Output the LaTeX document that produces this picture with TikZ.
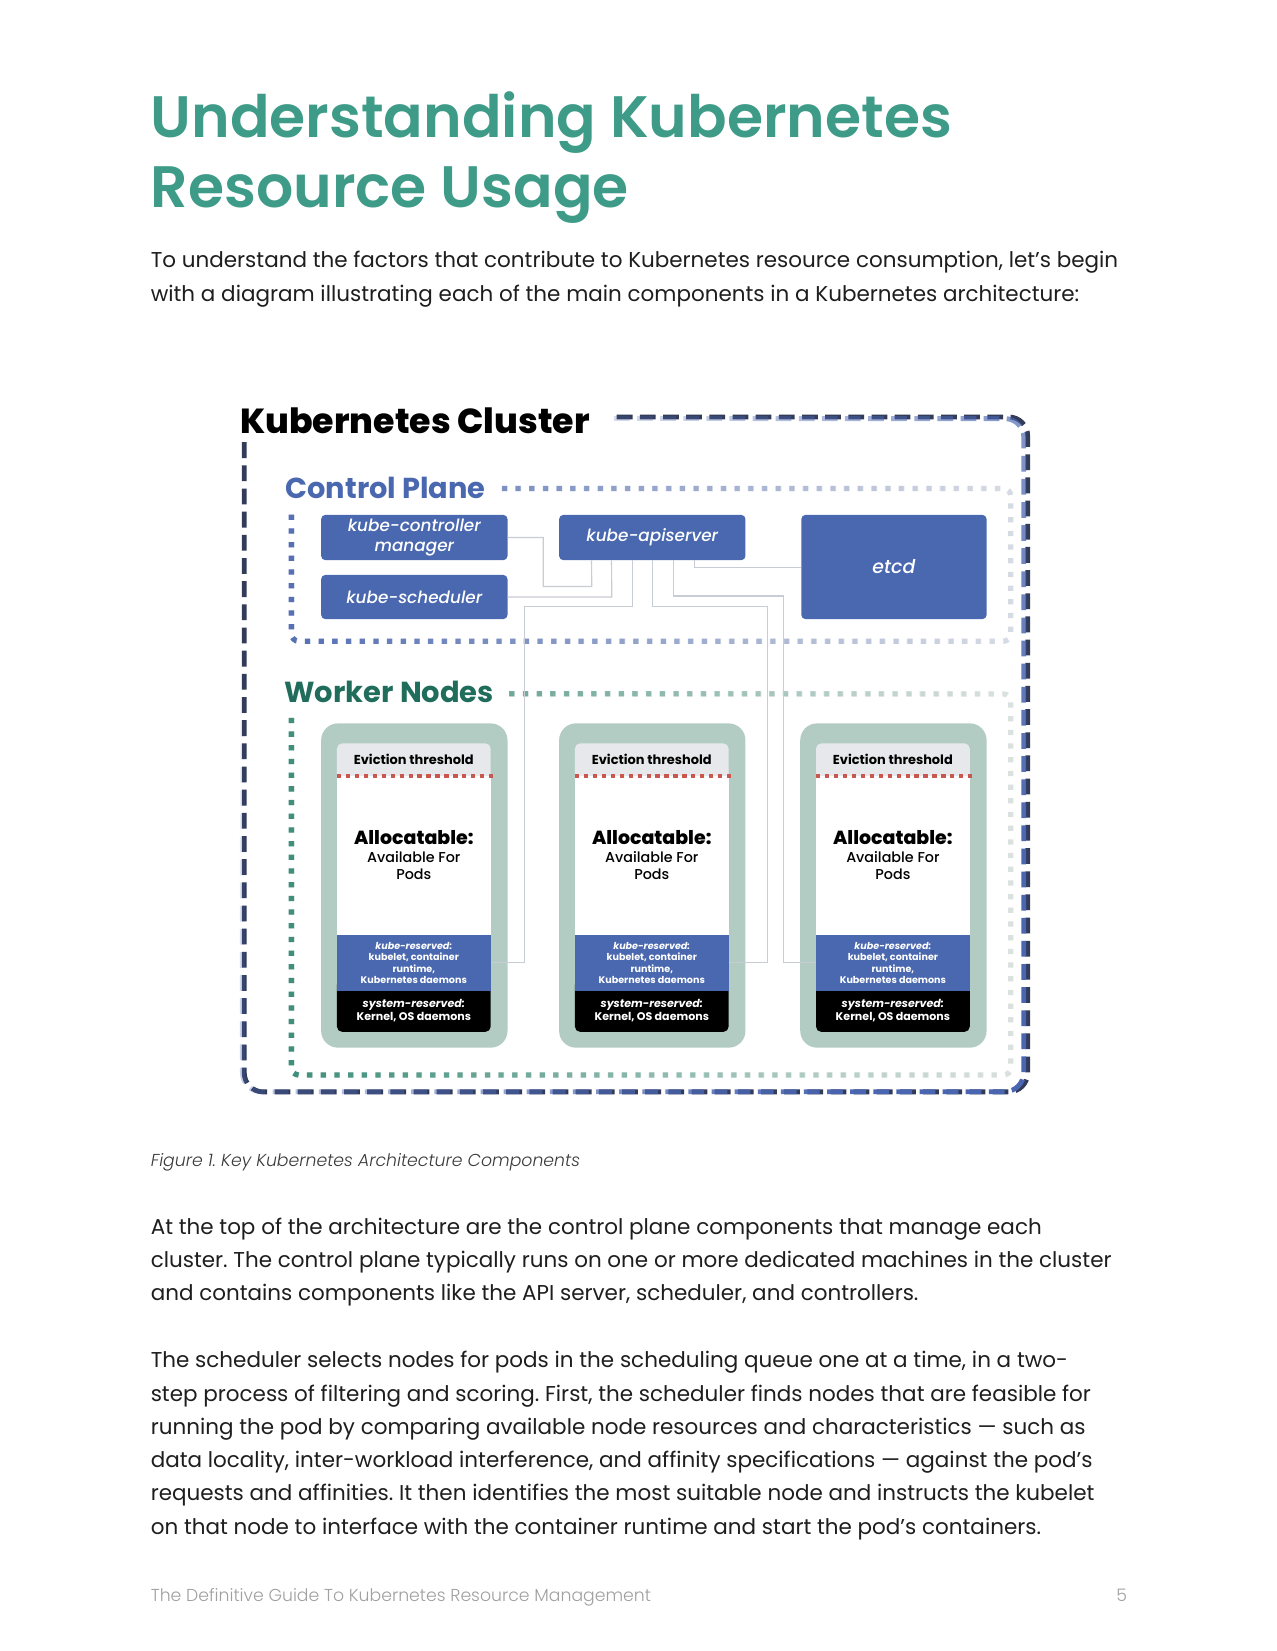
\documentclass[tikz,border=0pt]{standalone}
\usepackage{fontspec}
\setmainfont{Poppins}
\newfontfamily\psemi{Poppins SemiBold}[ItalicFont={Poppins SemiBold Italic}]
\newfontfamily\pmed{Poppins Medium}[ItalicFont={Poppins Medium Italic}]
\newfontfamily\plight{Poppins Light}[ItalicFont={Poppins Light Italic}]
\newfontfamily\pxb{Poppins ExtraBold}[ItalicFont={Poppins ExtraBold Italic}]
\usetikzlibrary{fadings}
\frenchspacing
\definecolor{titleteal}{HTML}{3D9B87}
\definecolor{bodyc}{HTML}{1E1E1E}
\definecolor{capc}{HTML}{3A3A3A}
\definecolor{footc}{HTML}{A0A0A0}
\definecolor{cpblue}{HTML}{4A68AF}
\definecolor{navy}{HTML}{323B58}
\definecolor{dashblue}{HTML}{4A66B2}
\definecolor{dotblue}{HTML}{5570B4}
\definecolor{dotgray}{HTML}{D8DCE4}
\definecolor{wnteal}{HTML}{1F6D5A}
\definecolor{dotteal}{HTML}{3F8F7B}
\definecolor{dotgray2}{HTML}{DCE2E0}
\definecolor{sage}{HTML}{B3CCC3}
\definecolor{headgray}{HTML}{E6E8EC}
\definecolor{evred}{HTML}{C9574F}
\definecolor{conngray}{HTML}{C8CCD4}
\tikzfading[name=fadeLR, left color=transparent!0, right color=transparent!100]
\tikzfading[name=fadeRL, left color=transparent!100, right color=transparent!0]
\tikzset{
  txt/.style={inner sep=0pt, anchor=base west, text=bodyc, font=\fontsize{20.4}{24}\selectfont},
  ttl/.style={inner sep=0pt, anchor=base west, text=titleteal, font=\psemi\fontsize{55.5}{60}\selectfont},
  cpbox/.style={fill=cpblue, rounded corners=4pt, inner sep=0pt, minimum width=177pt, text=white, align=center, font=\pmed\itshape\fontsize{16}{19.5}\selectfont},
  conn/.style={draw=conngray, line width=1.1pt},
  outerdash/.style={line width=4.6pt, dash pattern=on 15pt off 7pt, rounded corners=18pt},
  dotline/.style={line width=5pt, dash pattern=on 5pt off 8pt, rounded corners=7pt},
  evdots/.style={draw=evred, line width=3.5pt, dash pattern=on 4pt off 4.5pt},
  blk/.style={inner sep=0pt, minimum width=146pt, align=center},
}
\begin{document}
\begin{tikzpicture}[x=1pt,y=-1pt]
\useasboundingbox[fill=white] (0,0) rectangle (1212,1568);

% ---------- page text ----------
\node[ttl] (t1) at (143,131) {Understanding Kubernetes};
\node[ttl] (t2) at (143,197) {Resource Usage};
\node[txt] (p1) at (143,254) {To understand the factors that contribute to Kubernetes resource consumption, let’s begin};
\node[txt] (p2) at (143,286) {with a diagram illustrating each of the main components in a Kubernetes architecture:};

\node[txt, text=capc, font=\plight\itshape\fontsize{16.4}{20}\selectfont] (cap) at (143,1108) {Figure 1. Key Kubernetes Architecture Components};

\node[txt] (a1) at (143,1172) {At the top of the architecture are the control plane components that manage each};
\node[txt] (a2) at (143,1204) {cluster. The control plane typically runs on one or more dedicated machines in the cluster};
\node[txt] (a3) at (143,1235) {and contains components like the API server, scheduler, and controllers.};

\node[txt] (b1) at (143,1299) {The scheduler selects nodes for pods in the scheduling queue one at a time, in a two-};
\node[txt] (b2) at (143,1331) {step process of filtering and scoring. First, the scheduler finds nodes that are feasible for};
\node[txt] (b3) at (143,1362) {running the pod by comparing available node resources and characteristics — such as};
\node[txt] (b4) at (143,1394) {data locality, inter-workload interference, and affinity specifications — against the pod’s};
\node[txt] (b5) at (143,1425) {requests and affinities. It then identifies the most suitable node and instructs the kubelet};
\node[txt] (b6) at (143,1457) {on that node to interface with the container runtime and start the pod’s containers.};

\node[txt, text=footc, font=\plight\fontsize{16.4}{20}\selectfont] (foot) at (143,1521) {The Definitive Guide To Kubernetes Resource Management};
\node[txt, text=footc, font=\plight\fontsize{16.4}{20}\selectfont] (pg) at (1060,1521) {5};

% ---------- cluster frame ----------
\node[inner sep=0pt, anchor=base west, font=\pxb\fontsize{33}{36}\selectfont] (kc) at (228,412) {Kubernetes Cluster};
\draw[outerdash, draw=navy] (232,420) -- (232,1037) -- (976,1037) -- (976,396) -- (582,396);
\draw[outerdash, draw=dashblue, path fading=fadeRL, fading angle=-30] (232,420) -- (232,1037) -- (976,1037) -- (976,396) -- (582,396);

% ---------- control plane ----------
\node[inner sep=0pt, anchor=base west, text=cpblue, font=\bfseries\fontsize{27.4}{30}\selectfont] (cpl) at (271,473) {Control Plane};
\draw[dotline, draw=dotgray] (477,464) -- (960,464) -- (960,609) -- (277,609) -- (277,481);
\draw[dotline, draw=dotblue, path fading=fadeLR] (477,464) -- (960,464) -- (960,609) -- (277,609) -- (277,481);

\node[cpbox, minimum height=43pt] (kcm) at (393.5,510.5) {kube-controller\\[-1pt]manager};
\node[cpbox, minimum height=42pt] (ks) at (393.5,567) {kube-scheduler};
\node[cpbox, minimum height=43pt] (api) at (619.5,510.5) {kube-apiserver};
\node[cpbox, minimum width=176pt, minimum height=99pt, font=\pmed\itshape\fontsize{18}{20}\selectfont] (etcd) at (849,538.5) {etcd};

% ---------- worker nodes frame ----------
\node[inner sep=0pt, anchor=base west, text=wnteal, font=\bfseries\fontsize{27.5}{30}\selectfont] (wnl) at (270,667) {Worker Nodes};
\draw[dotline, draw=dotgray2] (484,659) -- (960,659) -- (960,1021) -- (277,1021) -- (277,677);
\draw[dotline, draw=dotteal, path fading=fadeLR] (484,659) -- (960,659) -- (960,1021) -- (277,1021) -- (277,677);

% ---------- node cards ----------
\foreach \i/\X in {1/305,2/531,3/760}{
  \pgfmathsetmacro\L{\X+15}
  \pgfmathsetmacro\R{\X+161}
  \pgfmathsetmacro\C{\X+88}
  \fill[sage, rounded corners=16pt] (\X,687) rectangle (\X+177,995);
  \fill[headgray, rounded corners=5pt] (\L,706) rectangle (\R,745);
  \fill[black, rounded corners=5pt] (\L,930) rectangle (\R,980);
  \fill[white] (\L,737) rectangle (\R,888);
  \draw[evdots] (\L,737) -- (\R+3,737);
  \node[inner sep=0pt, font=\bfseries\fontsize{12.3}{14}\selectfont] (ev\i) at (\C,721.5) {Eviction threshold};
  \node[inner sep=0pt, font=\pxb\fontsize{18}{20}\selectfont] (al\i) at (\C,795) {Allocatable:};
  \node[inner sep=0pt, align=center, font=\pmed\fontsize{13.6}{16.5}\selectfont] (av\i) at (\C,822) {Available For\\Pods};
  \node[blk, fill=cpblue, minimum height=53pt, text=white, font=\bfseries\fontsize{9.1}{11}\selectfont] (kr\i) at (\C,914.5)
     {{\itshape kube-reserved:}\\kubelet, container\\runtime,\\Kubernetes daemons};
  \node[blk, text=white, font=\bfseries\fontsize{10.5}{12.3}\selectfont] (sr\i) at (\C,960)
     {{\itshape system-reserved:}\\Kernel, OS daemons};
}

% ---------- connectors ----------
\draw[conn] (kcm.east) -- (516,510.5) -- (516,557) -- (562,557) -- ([xshift=31pt]api.south west);
\draw[conn] (ks.east) -- (581,567) -- ([xshift=50pt]api.south west);
\draw[conn] ([xshift=70pt]api.south west) |- (498,576) |- (kr1.east);
\draw[conn] ([xshift=89pt]api.south west) |- (729,576) |- (kr2.east);
\draw[conn] ([xshift=109pt]api.south west) |- (744,566) |- (kr3.west);
\draw[conn] ([xshift=129pt]api.south west) |- (etcd.west |- 0,539);
\end{tikzpicture}
\end{document}
